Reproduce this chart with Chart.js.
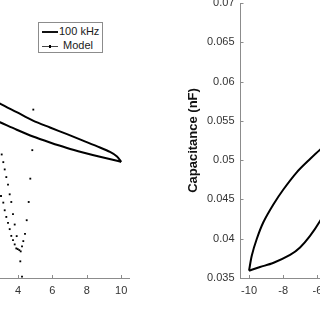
<!DOCTYPE html>
<html>
<head>
<meta charset="utf-8">
<script src="https://cdn.jsdelivr.net/npm/chart.js@4/dist/chart.umd.min.js"></script>
<style>
html,body{margin:0;padding:0;width:320px;height:320px;overflow:hidden;background:#fff;}
body{position:relative;}
#c1{position:absolute;left:-330px;top:0;width:470px;height:320px;}
#c2{position:absolute;left:186px;top:0;width:420px;height:320px;}
#legend{position:absolute;left:38px;top:22px;width:65px;height:31px;border:1px solid #8c8c8c;background:#fff;box-sizing:border-box;font:11px "Liberation Sans",Arial,sans-serif;color:#1a1a1a;}
.row{position:absolute;left:2px;height:13px;line-height:13px;white-space:nowrap;}
.swatch{position:absolute;left:1px;width:16px;}
.lbl{position:absolute;white-space:nowrap;}
</style>
</head>
<body>
<canvas id="c1" width="470" height="320"></canvas>
<canvas id="c2" width="420" height="320"></canvas>
<div id="legend">
  <div class="row" style="top:2px;width:60px;">
    <span class="swatch" style="top:6px;border-top:2px solid #111;"></span>
    <span class="lbl" style="left:18px;top:0;">100 kHz</span>
  </div>
  <div class="row" style="top:16px;width:60px;">
    <span class="swatch" style="top:7px;border-top:1px solid #444;"></span>
    <span style="position:absolute;left:8px;top:6px;width:2px;height:3px;background:#000;"></span>
    <span class="lbl" style="left:22px;top:0;">Model</span>
  </div>
</div>
<script>
// ---------- Shared ticks ----------
const xTicks = [-10, -8, -6, -4, -2, 0, 2, 4, 6, 8, 10];
const yTicks = [0.035, 0.04, 0.045, 0.05, 0.055, 0.06, 0.065, 0.07];

// ---------- Left panel data ----------
const leftUpperX = [2.0, 2.953, 3.924, 4.872, 5.86, 6.849, 7.779, 8.767, 9.349, 9.756, 10];
const leftUpperY = [0.0585, 0.05727, 0.05618, 0.05511, 0.05423, 0.05337, 0.05255, 0.05167, 0.0511, 0.05053, 0.04983];
const leftLowerX = [2.0, 2.953, 3.924, 4.872, 5.86, 6.849, 7.779, 8.767, 9.756, 10];
const leftLowerY = [0.0558, 0.05489, 0.05394, 0.05307, 0.05231, 0.05161, 0.05104, 0.05049, 0.04998, 0.04983];

const modelX = [3.052, 3.145, 3.227, 3.320, 3.419, 3.517, 3.610, 3.709, 3.808, 3.924, 3.983,
                3.012, 3.145, 3.227, 3.320, 3.419, 3.517, 3.610, 3.709, 3.808, 3.901, 4.076, 4.157,
                4.134, 4.233,
                4.233, 4.308, 4.407, 4.506, 4.622, 4.715, 4.831, 4.890];
const modelY = [0.05078, 0.04980, 0.04887, 0.04789, 0.04693, 0.04569, 0.04471, 0.04315, 0.04183, 0.04035, 0.03869,
                0.04547, 0.04463, 0.04365, 0.04280, 0.04204, 0.04124, 0.04038, 0.03984, 0.03929, 0.03878, 0.03856, 0.03840,
                0.03713, 0.03517,
                0.03903, 0.03971, 0.04064, 0.04238, 0.04471, 0.04769, 0.05133, 0.05651];

// ---------- Right panel data ----------
const rightUpperX = [-10, -9.842, -9.55, -9.164, -8.579, -7.994, -7.211, -6.433, -5.848, -5.2];
const rightUpperY = [0.03593, 0.03784, 0.03996, 0.04209, 0.04435, 0.04626, 0.04845, 0.05015, 0.05133, 0.0524];
const rightLowerX = [-10, -9.357, -8.596, -7.602, -7.018, -6.433, -5.848, -5.263];
const rightLowerY = [0.03593, 0.0364, 0.03691, 0.03793, 0.03888, 0.04035, 0.04225, 0.04455];

const pts = (xs, ys) => xs.map((x, i) => ({x: x, y: ys[i]}));

const AXIS = '#8c8c8c';
const TXT = '#333333';
const FONT = '"Liberation Sans", Arial, sans-serif';

const inwardTicks = {
  id: 'inwardTicks',
  afterDraw(chart, args, opts) {
    const ctx = chart.ctx;
    ctx.save();
    ctx.strokeStyle = AXIS;
    ctx.lineWidth = 1;
    const xs = chart.scales.x;
    xs.ticks.forEach(t => {
      const p = Math.round(xs.getPixelForValue(t.value)) + 0.5;
      ctx.beginPath(); ctx.moveTo(p, xs.top); ctx.lineTo(p, xs.top - 3); ctx.stroke();
    });
    if (opts && opts.y) {
      const ys = chart.scales.y;
      ys.ticks.forEach(t => {
        const p = Math.round(ys.getPixelForValue(t.value)) + 0.5;
        ctx.beginPath(); ctx.moveTo(ys.right, p); ctx.lineTo(ys.right + 3, p); ctx.stroke();
      });
    }
    ctx.restore();
  }
};

const lineDs = (data) => ({
  data: data, showLine: true, borderColor: '#000', borderWidth: 2,
  pointRadius: 0, tension: 0.3, fill: false
});

function xScale() {
  return {
    type: 'linear', min: -10.5, max: 10.5,
    afterBuildTicks: (s) => { s.ticks = xTicks.map(v => ({value: v})); },
    afterFit: (s) => { s.height = 42; s.paddingLeft = 0; s.paddingRight = 0; },
    grid: {display: false, drawTicks: false},
    border: {display: true, color: AXIS, width: 1},
    ticks: {color: TXT, font: {family: FONT, size: 11}, padding: 6, maxRotation: 0, autoSkip: false}
  };
}

function yScale(width, showLabels) {
  return {
    type: 'linear', min: 0.035, max: 0.07,
    afterBuildTicks: (s) => { s.ticks = yTicks.map(v => ({value: v})); },
    afterFit: (s) => { s.width = width; s.paddingTop = 0; s.paddingBottom = 0; },
    grid: {display: false, drawTicks: false},
    border: {display: true, color: AXIS, width: 1},
    ticks: {display: showLabels, color: TXT, font: {family: FONT, size: 11}, padding: 6,
            callback: (v) => String(+Number(v).toFixed(3))},
    title: {display: showLabels, text: 'Capacitance (nF)', color: '#111',
            font: {family: FONT, size: 13, weight: 'bold'}, padding: {top: 0, bottom: 0}}
  };
}

const common = {
  responsive: false, animation: false, maintainAspectRatio: false,
  plugins: {legend: {display: false}, tooltip: {enabled: false}}
};

new Chart(document.getElementById('c1'), {
  type: 'scatter',
  data: {
    datasets: [
      lineDs(pts(leftUpperX, leftUpperY)),
      lineDs(pts(leftLowerX, leftLowerY)),
      {data: pts(modelX, modelY), showLine: false, pointStyle: 'rect', pointRadius: 1.3,
       backgroundColor: '#000', borderWidth: 0, clip: false}
    ]
  },
  options: Object.assign({}, common, {
    layout: {padding: {top: 3, right: 10.2, left: 0, bottom: 0}},
    scales: {x: xScale(), y: yScale(98.6, false)},
    plugins: Object.assign({}, common.plugins, {inwardTicks: {y: false}})
  }),
  plugins: [inwardTicks]
});

new Chart(document.getElementById('c2'), {
  type: 'scatter',
  data: {
    datasets: [
      lineDs(pts(rightUpperX, rightUpperY)),
      lineDs(pts(rightLowerX, rightLowerY))
    ]
  },
  options: Object.assign({}, common, {
    layout: {padding: {top: 3, right: 6.4, left: 0, bottom: 0}},
    scales: {x: xScale(), y: yScale(54.5, true)},
    plugins: Object.assign({}, common.plugins, {inwardTicks: {y: true}})
  }),
  plugins: [inwardTicks]
});
</script>
</body>
</html>
